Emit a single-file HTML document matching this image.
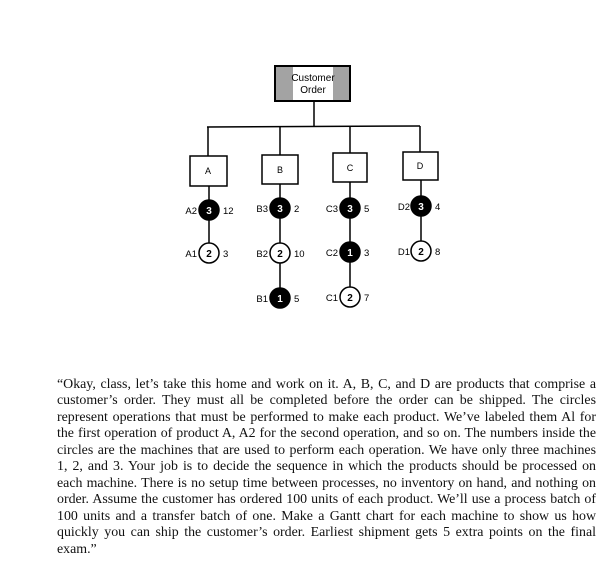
<!DOCTYPE html>
<html><head><style>
body{margin:0;width:612px;height:586px;background:#fff;position:relative;overflow:hidden}
.t{position:absolute;left:57px;width:539px;font-family:"Liberation Serif",serif;font-size:13.9px;color:#111;text-align:justify;text-align-last:justify;white-space:nowrap;line-height:16px}
.t.l{text-align-last:left}
</style></head><body>
<svg width="612" height="340" style="position:absolute;left:0;top:0" font-family="Liberation Sans, sans-serif">
<rect x="275" y="66" width="75" height="35" fill="#fff" stroke="#000" stroke-width="2"/>
<rect x="276" y="67" width="17" height="33" fill="#666" opacity=".6"/>
<rect x="333" y="67" width="16" height="33" fill="#666" opacity=".6"/>
<text x="313" y="81" font-size="10" text-anchor="middle">Customer</text>
<text x="313" y="93" font-size="10" text-anchor="middle">Order</text>
<g stroke="#000" stroke-width="1.5" fill="none">
<line x1="314" y1="101" x2="314" y2="127"/>
<line x1="207" y1="127" x2="420" y2="126"/>
<line x1="208" y1="127" x2="208" y2="156"/>
<line x1="280" y1="127" x2="280" y2="155"/>
<line x1="350" y1="127" x2="350" y2="153"/>
<line x1="420" y1="126" x2="420" y2="152"/>
<line x1="209" y1="186" x2="209" y2="253"/>
<line x1="280" y1="184" x2="280" y2="298"/>
<line x1="350" y1="182" x2="350" y2="297"/>
<line x1="421" y1="180" x2="421" y2="251"/>
</g>
<g fill="#fff" stroke="#000" stroke-width="1.5">
<rect x="190" y="156" width="37" height="30"/><rect x="262" y="155" width="36" height="29"/>
<rect x="333" y="153" width="34" height="29"/><rect x="403" y="152" width="35" height="28"/>
</g>
<g font-size="9" text-anchor="middle"><text x="208" y="174">A</text><text x="280" y="173">B</text><text x="350" y="171">C</text><text x="420" y="169">D</text></g>
<g stroke="#000" stroke-width="1.5">
<circle cx="209" cy="210" r="10" fill="#000"/><circle cx="209" cy="253" r="10" fill="#fff"/>
<circle cx="280" cy="208" r="10" fill="#000"/><circle cx="280" cy="253" r="10" fill="#fff"/><circle cx="280" cy="298" r="10" fill="#000"/>
<circle cx="350" cy="208" r="10" fill="#000"/><circle cx="350" cy="252" r="10" fill="#000"/><circle cx="350" cy="297" r="10" fill="#fff"/>
<circle cx="421" cy="206" r="10" fill="#000"/><circle cx="421" cy="251" r="10" fill="#fff"/>
</g>
<g font-size="10" text-anchor="middle" font-weight="bold">
<text x="209" y="214" fill="#fff">3</text><text x="209" y="257">2</text>
<text x="280" y="212" fill="#fff">3</text><text x="280" y="257">2</text><text x="280" y="302" fill="#fff">1</text>
<text x="350" y="212" fill="#fff">3</text><text x="350" y="256" fill="#fff">1</text><text x="350" y="301">2</text>
<text x="421" y="210" fill="#fff">3</text><text x="421" y="255">2</text>
</g>
<g font-size="9.5" text-anchor="end">
<text x="197" y="214">A2</text><text x="197" y="257">A1</text>
<text x="268" y="212">B3</text><text x="268" y="257">B2</text><text x="268" y="302">B1</text>
<text x="338" y="212">C3</text><text x="338" y="256">C2</text><text x="338" y="301">C1</text>
<text x="410" y="210">D2</text><text x="410" y="255">D1</text>
</g>
<g font-size="9.5">
<text x="223" y="214">12</text><text x="223" y="257">3</text>
<text x="294" y="212">2</text><text x="294" y="257">10</text><text x="294" y="302">5</text>
<text x="364" y="212">5</text><text x="364" y="256">3</text><text x="364" y="301">7</text>
<text x="435" y="210">4</text><text x="435" y="255">8</text>
</g>
</svg>
<div class="t" style="top:377px">“Okay, class, let’s take this home and work on it. A, B, C, and D are products that comprise a</div>
<div class="t" style="top:393px">customer’s order. They must all be completed before the order can be shipped. The circles</div>
<div class="t" style="top:410px">represent operations that must be performed to make each product. We’ve labeled them Al for</div>
<div class="t" style="top:426px">the first operation of product A, A2 for the second operation, and so on. The numbers inside the</div>
<div class="t" style="top:443px">circles are the machines that are used to perform each operation. We have only three machines</div>
<div class="t" style="top:459px">1, 2, and 3. Your job is to decide the sequence in which the products should be processed on</div>
<div class="t" style="top:476px">each machine. There is no setup time between processes, no inventory on hand, and nothing on</div>
<div class="t" style="top:492px">order. Assume the customer has ordered 100 units of each product. We’ll use a process batch of</div>
<div class="t" style="top:509px">100 units and a transfer batch of one. Make a Gantt chart for each machine to show us how</div>
<div class="t" style="top:525px">quickly you can ship the customer’s order. Earliest shipment gets 5 extra points on the final</div>
<div class="t l" style="top:542px">exam.”</div>
</body></html>
